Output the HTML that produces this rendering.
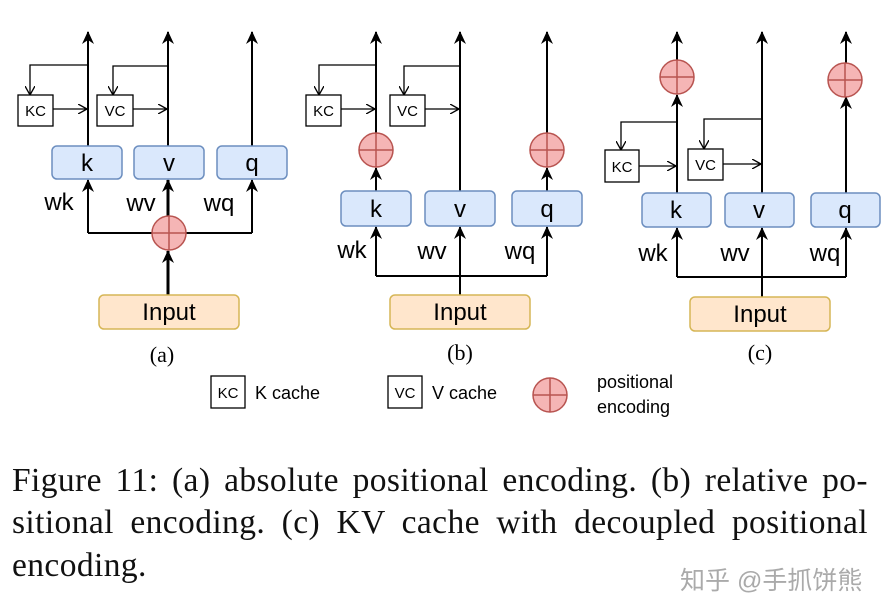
<!DOCTYPE html>
<html><head><meta charset="utf-8"><style>
body{margin:0;width:894px;height:616px;background:#fff;overflow:hidden;position:relative}
svg{position:absolute;left:0;top:0}
.cap{position:absolute;left:12px;width:856px;font-family:"Liberation Serif",serif;font-size:33.5px;line-height:43px;color:#111;white-space:nowrap;letter-spacing:0.4px}
.j{text-align:justify;text-align-last:justify}
.wm{position:absolute;left:680px;top:561px;font-family:"Liberation Sans","Noto Sans CJK SC",sans-serif;font-size:25px;color:#aaa}
</style></head><body>
<svg width="894" height="616" font-family="Liberation Sans, sans-serif">
<defs>
<marker id="a" markerWidth="14" markerHeight="12" refX="12" refY="6" orient="auto" markerUnits="userSpaceOnUse"><path d="M0,0 L13,6 L0,12 L4,6Z" fill="#000"/></marker>
<marker id="o" markerWidth="10" markerHeight="10" refX="9" refY="5" orient="auto" markerUnits="userSpaceOnUse"><path d="M0,0 L9,5 L0,10" fill="none" stroke="#000" stroke-width="1.3"/></marker>
<g id="pe"><circle r="17" fill="#f5b5b5" stroke="#b85450" stroke-width="1.5"/><path d="M-17,0H17M0,-17V17" stroke="#b85450" stroke-width="1.5"/></g>
</defs>
<g stroke="#000" stroke-width="2" fill="none" marker-end="url(#a)">
<path d="M88,146V32"/><path d="M168,146V32"/><path d="M252,146V32"/>
<path d="M88,233V180"/><path d="M252,233V180"/>
<path d="M168,216V180" stroke-width="3"/><path d="M168,295V251" stroke-width="3"/>
<path d="M376,191V168"/><path d="M376,133V32"/><path d="M460,191V32"/><path d="M547,191V168"/><path d="M547,133V32"/>
<path d="M376,276V227"/><path d="M460,295V227"/><path d="M547,276V227"/>
<path d="M677,193V95"/><path d="M677,60V32"/><path d="M762,193V32"/><path d="M846,193V97"/><path d="M846,63V32"/>
<path d="M677,277V228"/><path d="M762,297V228"/><path d="M846,277V228"/>
</g>
<g stroke="#000" stroke-width="2" fill="none">
<path d="M88,233H252"/><path d="M376,276H547"/><path d="M677,277H846"/>
</g>
<g stroke="#000" stroke-width="1.3" fill="none" marker-end="url(#o)">
<path d="M88,65H30V95"/><path d="M53,109H87"/>
<path d="M168,66H113V95"/><path d="M133,109H167"/>
<path d="M376,65H319V95"/><path d="M341,109H375"/>
<path d="M460,66H404V95"/><path d="M424,109H459"/>
<path d="M677,122H621V150"/><path d="M639,166H676"/>
<path d="M762,119H704V149"/><path d="M723,164H761"/>
</g>
<g fill="#fff" stroke="#000" stroke-width="1.3">
<rect x="18" y="95" width="35" height="31"/><rect x="97" y="95" width="36" height="31"/>
<rect x="306" y="95" width="35" height="31"/><rect x="390" y="95" width="35" height="31"/>
<rect x="605" y="150" width="34" height="32"/><rect x="688" y="149" width="35" height="31"/>
<rect x="211" y="376" width="34" height="32"/><rect x="388" y="376" width="34" height="32"/>
</g>
<g font-size="15" text-anchor="middle">
<text x="35.5" y="116">KC</text><text x="115" y="116">VC</text>
<text x="323.5" y="116">KC</text><text x="407.5" y="116">VC</text>
<text x="622" y="172">KC</text><text x="705.5" y="170">VC</text>
<text x="228" y="398">KC</text><text x="405" y="398">VC</text>
</g>
<g fill="#dae8fc" stroke="#6c8ebf" stroke-width="1.5">
<rect x="52" y="146" width="70" height="33" rx="5"/><rect x="134" y="146" width="70" height="33" rx="5"/><rect x="217" y="146" width="70" height="33" rx="5"/>
<rect x="341" y="191" width="70" height="35" rx="5"/><rect x="425" y="191" width="70" height="35" rx="5"/><rect x="512" y="191" width="70" height="35" rx="5"/>
<rect x="642" y="193" width="69" height="34" rx="5"/><rect x="725" y="193" width="69" height="34" rx="5"/><rect x="811" y="193" width="69" height="34" rx="5"/>
</g>
<g fill="#ffe6cc" stroke="#d6b656" stroke-width="1.5">
<rect x="99" y="295" width="140" height="34" rx="5"/><rect x="390" y="295" width="140" height="34" rx="5"/><rect x="690" y="297" width="140" height="34" rx="5"/>
</g>
<g font-size="24" text-anchor="middle">
<text x="87" y="171">k</text><text x="169" y="171">v</text><text x="252" y="171">q</text>
<text x="376" y="217">k</text><text x="460" y="217">v</text><text x="547" y="217">q</text>
<text x="676" y="218">k</text><text x="759" y="218">v</text><text x="845" y="218">q</text>
<text x="169" y="320">Input</text><text x="460" y="320">Input</text><text x="760" y="322">Input</text>
<text x="59" y="210">wk</text><text x="141" y="211">wv</text><text x="219" y="211">wq</text>
<text x="352" y="258">wk</text><text x="432" y="259">wv</text><text x="520" y="259">wq</text>
<text x="653" y="261">wk</text><text x="735" y="261">wv</text><text x="825" y="261">wq</text>
</g>
<use href="#pe" x="169" y="233"/><use href="#pe" x="376" y="150"/><use href="#pe" x="547" y="150"/>
<use href="#pe" x="677" y="77"/><use href="#pe" x="845" y="80"/><use href="#pe" x="550" y="395"/>
<g font-family="Liberation Serif, serif" font-size="22" text-anchor="middle">
<text x="162" y="362">(a)</text><text x="460" y="360">(b)</text><text x="760" y="360">(c)</text>
</g>
<g font-size="18"><text x="255" y="399">K cache</text><text x="432" y="399">V cache</text>
<text x="597" y="388">positional</text><text x="597" y="413">encoding</text></g>
</svg>
<div class="cap j" style="top:459px">Figure 11: (a) absolute positional encoding. (b) relative po-</div>
<div class="cap j" style="top:501px">sitional encoding. (c) KV cache with decoupled positional</div>
<div class="cap" style="top:544px">encoding.</div>
<div class="wm">知乎 @手抓饼熊</div>
</body></html>
